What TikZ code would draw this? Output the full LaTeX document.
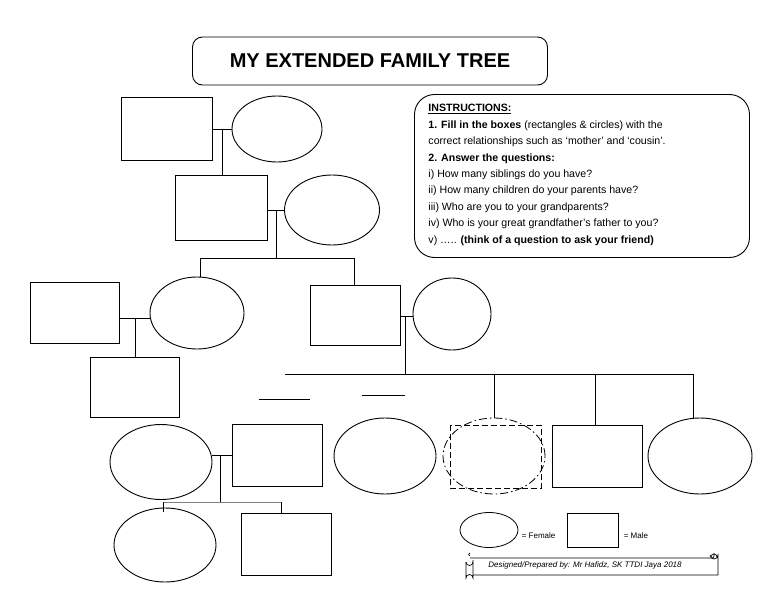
\documentclass[tikz,border=0pt]{standalone}
\usepackage{fontspec}
\setmainfont{Liberation Sans}
\usetikzlibrary{shapes.geometric}
\begin{document}
\begin{tikzpicture}[x=1pt,y=-1pt,line width=0.9pt,
  fem/.style={draw,ellipse,inner sep=0pt},
  lk/.style={line width=0.9pt}]
\useasboundingbox (0,0) rectangle (768,594);
% title
\node[draw,rounded corners=10pt,minimum width=355pt,minimum height=48pt,line width=0.9pt] (title) at (370,61) {\fontsize{20}{22}\selectfont\bfseries MY EXTENDED FAMILY TREE};
% instructions
\node[draw,rounded corners=20pt,minimum width=335pt,minimum height=163pt,line width=0.9pt] (instr) at (582,176) {};
\node[anchor=north west,align=left,inner sep=0pt,font=\fontsize{10.6}{16.4}\selectfont] (itext) at (428,104) {%
\textbf{\underline{INSTRUCTIONS:}}\\
\textbf{1. Fill in the boxes} (rectangles \& circles) with the\\
correct relationships such as `mother' and `cousin'.\\
\textbf{2. Answer the questions:}\\
i) How many siblings do you have?\\
ii) How many children do your parents have?\\
iii) Who are you to your grandparents?\\
iv) Who is your great grandfather's father to you?\\
v) \dots.. \textbf{(think of a question to ask your friend)}};
% row 1
\draw (121,97) rectangle (212,160); \coordinate (r1) at (212,129);
\node[fem,minimum width=90pt,minimum height=66pt] (e1) at (277,129) {};
\draw[lk] (r1) -- (e1.west);
\draw (175,175) rectangle (267,240);
\draw[lk] (222,129) -- (222,175);
\node[fem,minimum width=95pt,minimum height=70pt] (e2) at (332,210) {};
\draw[lk] (267,210) -- (e2.west);
\draw[lk] (276,210) -- (276,258);
\draw[lk] (200,277) -- (200,258) -- (354,258) -- (354,285);
% row 3
\draw (30,282) rectangle (119,343);
\node[fem,minimum width=94pt,minimum height=72pt] (e3) at (197,313) {};
\draw[lk] (119,318) -- (e3.west|-0,318);
\draw[lk] (135,318) -- (135,357);
\draw (90,357) rectangle (179,417);
\draw (310,285) rectangle (400,345);
\node[fem,minimum width=78pt,minimum height=72pt] (e4) at (452,314) {};
\draw[lk] (400,316) -- (e4.west|-0,316);
\draw[lk] (405,316) -- (405,374);
\draw[lk] (285,374) -- (693,374);
\draw[lk] (259,399) -- (310,399);
\draw[lk] (362,395) -- (405,395);
% row 4
\node[fem,minimum width=102pt,minimum height=75pt] (e5) at (161,462) {};
\draw (232,424) rectangle (322,486);
\draw[lk] (e5.east|-0,455) -- (232,455);
\draw[lk] (220,455) -- (220,502);
\draw[line width=0.8pt,gray] (163,502) -- (281,502);
\draw[lk] (163,512) -- (163,502); \draw[lk] (281,502) -- (281,513);
\node[fem,minimum width=102pt,minimum height=74pt] (e6) at (165,545) {};
\draw (241,513) rectangle (331,575);
\node[fem,minimum width=102pt,minimum height=76pt] (e7) at (385,456) {};
\draw[dash pattern=on 6pt off 3pt,line width=0.8pt] (450,425) rectangle (541,488);
\node[fem,dash pattern=on 8pt off 3pt on 1.5pt off 3pt,line width=0.8pt,minimum width=102pt,minimum height=76pt] (e8) at (494,456) {};
\draw[lk] (494,374) -- (494,418);
\draw (552,425) rectangle (642,487);
\draw[lk] (595,374) -- (595,425);
\node[fem,minimum width=104pt,minimum height=76pt] (e9) at (700,456) {};
\draw[lk] (693,374) -- (693,418.5);
% legend
\node[fem,line width=0.8pt,minimum width=58pt,minimum height=35pt] (lf) at (489,530) {};
\node[anchor=west,font=\fontsize{8}{9}\selectfont] (lft) at (518,536) {= Female};
\draw[line width=0.8pt] (567,513) rectangle (618,547);
\node[anchor=west,font=\fontsize{8}{9}\selectfont] (lmt) at (620,536) {= Male};
% scroll
\draw[line width=0.7pt,rounded corners=2pt] (470,558) -- (714,558) -- (714,553);
\draw[line width=0.7pt] (470,556) arc (90:270:1.5) (466,562) -- (466,578) arc (180:360:3.5) -- (473,560);
\draw[line width=0.7pt] (466,562) arc (180:0:3.5);
\draw[line width=0.7pt] (473,575) -- (718,575) -- (718,555) arc (0:180:4);
\draw[line width=0.7pt] (711,557) arc (180:360:3);
\node[font=\itshape\fontsize{8}{9}\selectfont] (sc) at (585,565) {Designed/Prepared by: Mr Hafidz, SK TTDI Jaya 2018};
\end{tikzpicture}
\end{document}
